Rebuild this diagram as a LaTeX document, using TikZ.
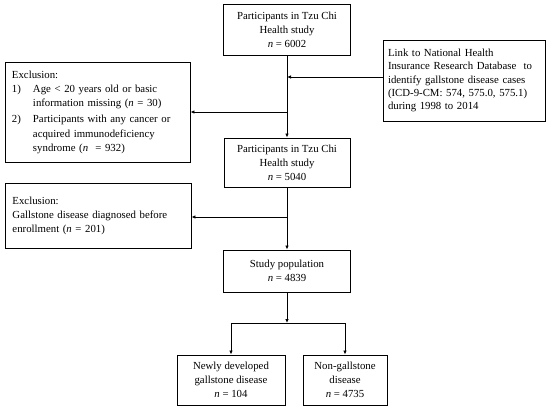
\documentclass[tikz,border=0pt]{standalone}
\usepackage{fontspec}
\setmainfont{Liberation Serif}
\usetikzlibrary{arrows.meta}
\begin{document}
\begin{tikzpicture}[x=1pt,y=-1pt,
  box/.style={draw, line width=0.9pt, inner sep=0pt, font=\fontsize{10.8}{14}\selectfont},
  arr/.style={-{Latex[length=4pt,width=3.5pt]}, line width=0.8pt},
  ln/.style={line width=0.8pt}]
\useasboundingbox (0,0) rectangle (550,412);
\node[box, minimum width=127, minimum height=51, align=center] (a) at (287,29.5)
  {Participants in Tzu Chi\\Health study\\\textit{n} = 6002};
\node[box, minimum width=162, minimum height=81, text width=152, align=left, font=\fontsize{10.8}{13.3}\selectfont] (r) at (464,80.5)
  {Link to National Health\\Insurance Research Database~ to\\identify gallstone disease cases\\(ICD-9-CM: 574, 575.0, 575.1)\\during 1998 to 2014};
\node[box, minimum width=185, minimum height=100, text width=171, align=left, font=\fontsize{10.8}{14.4}\selectfont] (e1) at (97.5,112)
  {\begin{tabular}{@{}p{21pt}@{}p{150pt}@{}}
   \multicolumn{2}{@{}l@{}}{Exclusion:}\\
   1) & Age < 20 years old or basic\newline information missing (\textit{n} = 30)\\[1.5pt]
   2) & Participants with any cancer or\newline acquired immunodeficiency\newline syndrome (\textit{n}~~= 932)
   \end{tabular}};
\node[box, minimum width=126, minimum height=49, align=center] (b) at (287,162.5)
  {Participants in Tzu Chi\\Health study\\\textit{n} = 5040};
\node[box, minimum width=186, minimum height=65, text width=171, align=left] (e2) at (98,215.5)
  {Exclusion:\\Gallstone disease diagnosed before\\enrollment (\textit{n} = 201)};
\node[box, minimum width=127, minimum height=42, align=center] (s) at (287,271)
  {Study population\\\textit{n} = 4839};
\node[box, minimum width=108, minimum height=50, align=center] (n1) at (231,380)
  {Newly developed\\gallstone disease\\\textit{n} = 104};
\node[box, minimum width=84, minimum height=50, align=center] (n2) at (345,380)
  {Non-gallstone\\disease\\\textit{n} = 4735};
\coordinate (j1) at (287,77);
\coordinate (j2) at (287,112);
\coordinate (j3) at (287,217);
\coordinate (br) at (287,323);
\draw[arr] (a.south) -- (b.north);
\draw[arr] (r.west |- j1) -- (j1);
\draw[arr] (j2) -- (e1.east |- j2);
\draw[arr] (b.south) -- (s.north);
\draw[arr] (j3) -- (e2.east |- j3);
\draw[arr] (s.south) -- (br);
\draw[ln] (n1.north |- br) -- (n2.north |- br);
\draw[arr] (n1.north |- br) -- (n1.north);
\draw[arr] (n2.north |- br) -- (n2.north);
\end{tikzpicture}
\end{document}
